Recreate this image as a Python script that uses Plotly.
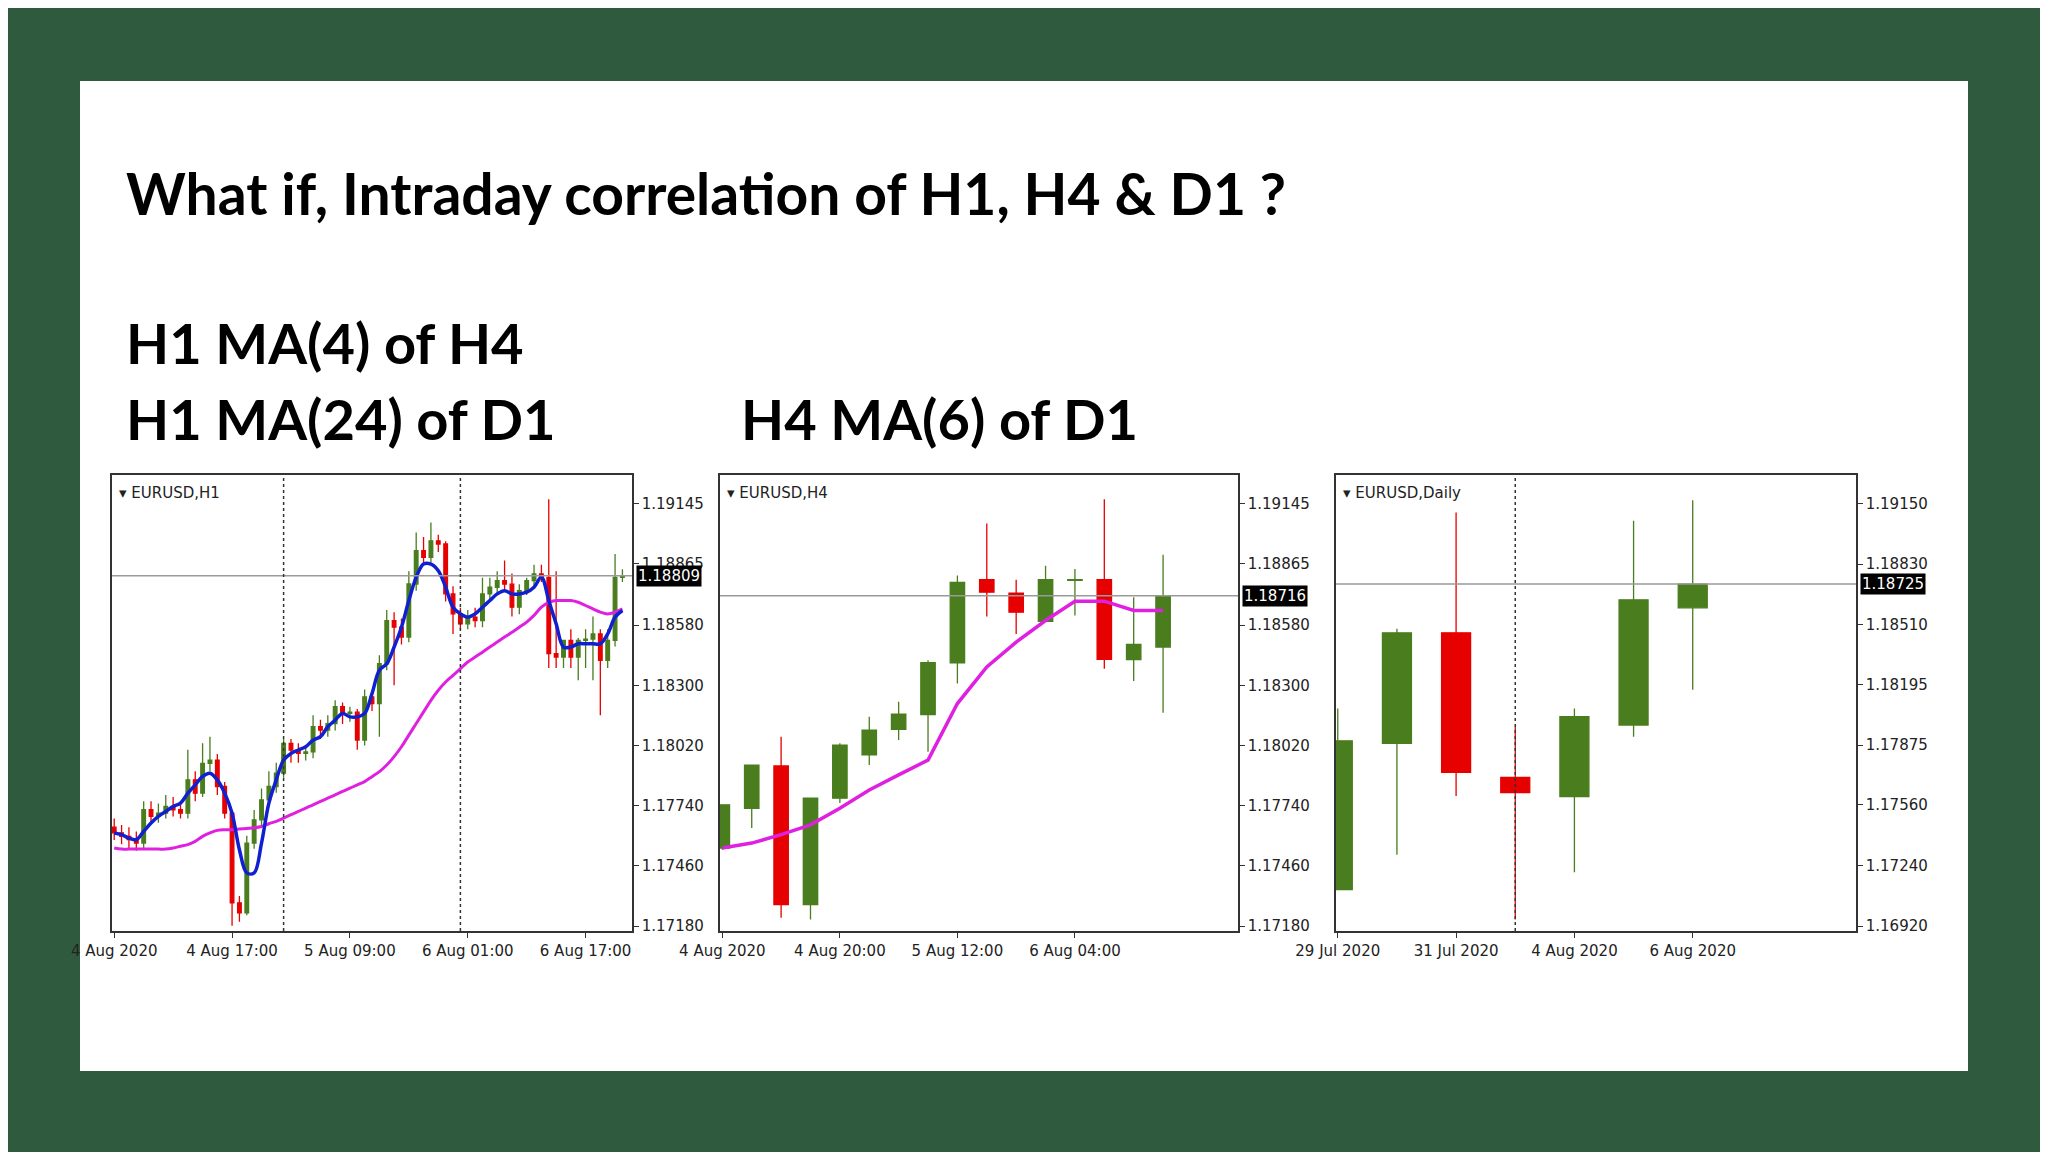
import plotly.graph_objects as go

W, H = 2048, 1152
OFF = 8  # page body margin compensation

# ---------------- H1 data ----------------
h1_open = [1.17640,1.17613,1.17597,1.17582,1.17566,1.17721,1.17690,1.17705,1.17736,1.17721,
           1.17705,1.17860,1.17798,1.17937,1.17952,1.17829,1.17705,1.17288,1.17242,1.17566,
           1.17674,1.17767,1.17829,1.17891,1.18030,1.17999,1.17983,1.17990,1.18107,1.18091,
           1.18122,1.18200,1.18169,1.18175,1.18045,1.18246,1.18215,1.18400,1.18601,1.18570,
           1.18524,1.18771,1.18926,1.18895,1.18972,1.18957,1.18725,1.18632,1.18586,1.18617,
           1.18601,1.18725,1.18756,1.18787,1.18770,1.18663,1.18740,1.18787,1.18818,1.18802,
           1.18447,1.18431,1.18509,1.18431,1.18509,1.18515,1.18539,1.18416,1.18509,1.18802]
h1_high = [1.17680,1.17650,1.17640,1.17620,1.17760,1.17760,1.17750,1.17790,1.17780,1.17760,
           1.18000,1.17900,1.18030,1.18060,1.17980,1.17850,1.17720,1.17320,1.17600,1.17720,
           1.17820,1.17900,1.17940,1.18050,1.18050,1.18030,1.18020,1.18160,1.18140,1.18160,
           1.18230,1.18220,1.18200,1.18190,1.18280,1.18270,1.18440,1.18650,1.18640,1.18610,
           1.18830,1.19010,1.18990,1.19057,1.19000,1.18970,1.18760,1.18660,1.18650,1.18660,
           1.18800,1.18800,1.18830,1.18880,1.18820,1.18770,1.18800,1.18860,1.18860,1.19165,
           1.18830,1.18480,1.18560,1.18520,1.18560,1.18620,1.18560,1.18560,1.18910,1.18840]
h1_low = [1.17580,1.17560,1.17540,1.17530,1.17540,1.17660,1.17660,1.17680,1.17690,1.17680,
          1.17680,1.17760,1.17780,1.17900,1.17790,1.17680,1.17181,1.17200,1.17230,1.17540,
          1.17640,1.17740,1.17800,1.17870,1.17940,1.17940,1.17950,1.17960,1.18050,1.18060,
          1.18090,1.18120,1.18130,1.18000,1.18020,1.18180,1.18060,1.18370,1.18300,1.18490,
          1.18500,1.18740,1.18860,1.18870,1.18920,1.18690,1.18539,1.18560,1.18560,1.18570,
          1.18570,1.18700,1.18730,1.18740,1.18620,1.18630,1.18720,1.18760,1.18780,1.18380,
          1.18380,1.18380,1.18380,1.18323,1.18380,1.18323,1.18160,1.18380,1.18480,1.18780]
h1_close = [1.17613,1.17597,1.17582,1.17566,1.17721,1.17690,1.17705,1.17736,1.17721,1.17705,
            1.17860,1.17798,1.17937,1.17952,1.17829,1.17705,1.17288,1.17242,1.17566,1.17674,
            1.17767,1.17829,1.17891,1.18030,1.17999,1.17983,1.17990,1.18107,1.18091,1.18122,
            1.18200,1.18169,1.18175,1.18045,1.18246,1.18215,1.18400,1.18601,1.18570,1.18524,
            1.18771,1.18926,1.18895,1.18972,1.18957,1.18725,1.18632,1.18586,1.18617,1.18601,
            1.18725,1.18756,1.18787,1.18770,1.18663,1.18740,1.18787,1.18818,1.18802,1.18447,
            1.18431,1.18509,1.18431,1.18509,1.18515,1.18539,1.18416,1.18509,1.18802,1.18809]
h1_ma4 = [1.17613,1.17605,1.17589,1.17582,1.17620,1.17659,1.17690,1.17713,1.17736,1.17752,
          1.17798,1.17837,1.17876,1.17891,1.17860,1.17798,1.17705,1.17535,1.17427,1.17427,
          1.17566,1.17752,1.17860,1.17952,1.17983,1.17999,1.18014,1.18045,1.18061,1.18107,
          1.18138,1.18169,1.18153,1.18153,1.18169,1.18261,1.18370,1.18400,1.18478,1.18570,
          1.18694,1.18802,1.18864,1.18864,1.18833,1.18756,1.18663,1.18632,1.18617,1.18632,
          1.18663,1.18694,1.18725,1.18740,1.18725,1.18725,1.18733,1.18756,1.18802,1.18694,
          1.18586,1.18478,1.18478,1.18493,1.18493,1.18493,1.18493,1.18539,1.18617,1.18648]
h1_ma24 = [1.17543,1.17538,1.17538,1.17538,1.17538,1.17538,1.17538,1.17538,1.17543,1.17551,
           1.17559,1.17574,1.17597,1.17613,1.17625,1.17628,1.17628,1.17631,1.17634,1.17637,
           1.17643,1.17656,1.17667,1.17682,1.17698,1.17713,1.17729,1.17744,1.17760,1.17775,
           1.17790,1.17806,1.17821,1.17837,1.17852,1.17875,1.17898,1.17929,1.17968,1.18014,
           1.18068,1.18122,1.18176,1.18230,1.18277,1.18315,1.18346,1.18377,1.18408,1.18431,
           1.18454,1.18478,1.18501,1.18524,1.18547,1.18570,1.18594,1.18625,1.18663,1.18686,
           1.18694,1.18694,1.18694,1.18686,1.18671,1.18655,1.18640,1.18632,1.18640,1.18655]
h1_ticks = ["4 Aug 2020", "4 Aug 17:00", "5 Aug 09:00", "6 Aug 01:00", "6 Aug 17:00"]
h1_tickpos = [0, 16, 32, 48, 64]

# ---------------- H4 data ----------------
h4_open = [1.17543,1.17728,1.17925,1.17280,1.17775,1.17976,1.18095,1.18164,1.18404,1.18791,1.18729,1.18597,1.18788,1.18791,1.18419,1.18478]
h4_high = [1.17744,1.17929,1.18061,1.17775,1.18030,1.18153,1.18223,1.18416,1.18810,1.19052,1.18791,1.18856,1.18841,1.19165,1.18709,1.18907]
h4_low = [1.17535,1.17636,1.17219,1.17211,1.17752,1.17929,1.18045,1.17991,1.18308,1.18620,1.18539,1.18597,1.18624,1.18377,1.18320,1.18172]
h4_close = [1.17744,1.17929,1.17280,1.17775,1.18022,1.18091,1.18166,1.18405,1.18779,1.18733,1.18640,1.18791,1.18791,1.18420,1.18490,1.18716]
h4_ma6 = [1.17543,1.17566,1.17605,1.17651,1.17728,1.17813,1.17883,1.17952,1.18215,1.18385,1.18501,1.18601,1.18691,1.18691,1.18648,1.18648]
h4_ticks = ["4 Aug 2020", "4 Aug 20:00", "5 Aug 12:00", "6 Aug 04:00"]
h4_tickpos = [0, 4, 8, 12]

# ---------------- Daily data ----------------
d1_open = [1.17113,1.17884,1.18468,1.17705,1.17604,1.17981,1.18600]
d1_high = [1.18068,1.18489,1.19103,1.17972,1.18068,1.19059,1.19168]
d1_low = [1.17113,1.17297,1.17607,1.16955,1.17204,1.17919,1.18168]
d1_close = [1.17898,1.18468,1.17732,1.17625,1.18025,1.18642,1.18725]
d1_ticks = ["29 Jul 2020", "31 Jul 2020", "4 Aug 2020", "6 Aug 2020"]
d1_tickpos = [0, 2, 4, 6]

ticks_a = [1.19145, 1.18865, 1.18580, 1.18300, 1.18020, 1.17740, 1.17460, 1.17180]
ticks_b = [1.19150, 1.18830, 1.18510, 1.18195, 1.17875, 1.17560, 1.17240, 1.16920]

GREEN = "#4a7d1e"
RED = "#e60000"
MAG = "#e020e0"
BLUE = "#1020d0"

fig = go.Figure()

def px_x(p): return (p - OFF) / W
def px_y(p): return 1 - (p - OFF) / H

panels = [
    dict(n="", x0=112, x1=632, name="EURUSD,H1", o=h1_open, h=h1_high, l=h1_low, c=h1_close,
         ticks=ticks_a, yr=[1.17157, 1.19278], xr=[-0.3, 70.3], tp=h1_tickpos, tt=h1_ticks,
         cur="1.18809", curv=1.18809, seps=[23, 47]),
    dict(n="2", x0=720, x1=1238, name="EURUSD,H4", o=h4_open, h=h4_high, l=h4_low, c=h4_close,
         ticks=ticks_a, yr=[1.17157, 1.19278], xr=[-0.08, 17.55], tp=h4_tickpos, tt=h4_ticks,
         cur="1.18716", curv=1.18716, seps=[]),
    dict(n="3", x0=1336, x1=1856, name="EURUSD,Daily", o=d1_open, h=d1_high, l=d1_low, c=d1_close,
         ticks=ticks_b, yr=[1.16894, 1.19301], xr=[-0.03, 8.76], tp=d1_tickpos, tt=d1_ticks,
         cur="1.18725", curv=1.18725, seps=[3]),
]

shapes = []
annotations = []
for p in panels:
    xa, ya = "x" + p["n"], "y" + p["n"]
    xs = list(range(len(p["c"])))
    fig.add_trace(go.Candlestick(
        x=xs, open=p["o"], high=p["h"], low=p["l"], close=p["c"],
        xaxis=xa, yaxis=ya, whiskerwidth=0,
        increasing=dict(line=dict(color=GREEN, width=1.3), fillcolor=GREEN),
        decreasing=dict(line=dict(color=RED, width=1.3), fillcolor=RED),
        hoverinfo="skip", showlegend=False))
    kx = "xaxis" + p["n"]; ky = "yaxis" + p["n"]
    fig.layout[kx] = dict(domain=[px_x(p["x0"]), px_x(p["x1"])], anchor=ya, range=p["xr"],
                          rangeslider=dict(visible=False), showgrid=False, zeroline=False,
                          automargin=False,
                          showline=True, mirror=True, linecolor="#333", linewidth=1.5,
                          tickmode="array", tickvals=p["tp"], ticktext=p["tt"],
                          ticks="outside", ticklen=5, tickcolor="#333",
                          tickfont=dict(family="DejaVu Sans", size=15, color="#222"))
    fig.layout[ky] = dict(domain=[px_y(931), px_y(475)], anchor=xa, range=p["yr"], side="right",
                          showgrid=False, zeroline=False, showline=True, mirror=True,
                          automargin=False,
                          linecolor="#333", linewidth=1.5, tickmode="array",
                          tickvals=p["ticks"], ticktext=[f"{t:.5f}" for t in p["ticks"]],
                          ticks="outside", ticklen=5, tickcolor="#333",
                          tickfont=dict(family="DejaVu Sans", size=15, color="#222"))
    shapes.append(dict(type="line", xref=xa + " domain", yref=ya, x0=0, x1=1,
                       y0=p["curv"], y1=p["curv"], line=dict(color="#9a9a9a", width=1.5)))
    for s in p["seps"]:
        shapes.append(dict(type="line", xref=xa, yref=ya + " domain", x0=s, x1=s, y0=0, y1=1,
                           line=dict(color="#333", width=1.5, dash="dot")))
    annotations.append(dict(xref=xa + " domain", yref=ya, x=1.008, y=p["curv"], xanchor="left",
                            text=p["cur"], showarrow=False, bgcolor="#000",
                            font=dict(family="DejaVu Sans", size=15, color="white"), borderpad=1))
    annotations.append(dict(xref=xa + " domain", yref=ya + " domain", x=0.01, y=0.985,
                            xanchor="left", yanchor="top", text="▾ " + p["name"], showarrow=False,
                            font=dict(family="DejaVu Sans", size=15, color="#222")))

fig.add_trace(go.Scatter(x=list(range(len(h1_ma24))), y=h1_ma24, mode="lines", xaxis="x", yaxis="y",
                         line=dict(color=MAG, width=3, shape="spline"), hoverinfo="skip", showlegend=False))
fig.add_trace(go.Scatter(x=list(range(len(h1_ma4))), y=h1_ma4, mode="lines", xaxis="x", yaxis="y",
                         line=dict(color=BLUE, width=3.5, shape="spline"), hoverinfo="skip", showlegend=False))
fig.add_trace(go.Scatter(x=list(range(len(h4_ma6))), y=h4_ma6, mode="lines", xaxis="x2", yaxis="y2",
                         line=dict(color=MAG, width=3.5), hoverinfo="skip", showlegend=False))

# white slide panel
shapes.insert(0, dict(type="rect", xref="paper", yref="paper", x0=px_x(80), x1=px_x(1968),
                      y0=px_y(1071), y1=px_y(81), fillcolor="white", line=dict(width=0), layer="below"))

TF = dict(family="Lato", size=57, color="black")
SF = dict(family="Lato", size=56, color="black")
for txt, x, y, f in [("<b>What if, Intraday correlation of H1, H4 &amp; D1 ?</b>", 124, 193, TF),
                     ("<b>H1 MA(4) of H4</b>", 124, 342, SF),
                     ("<b>H1 MA(24) of D1</b>", 124, 418, SF),
                     ("<b>H4 MA(6) of D1</b>", 739, 418, SF)]:
    annotations.append(dict(xref="paper", yref="paper", x=px_x(x), y=px_y(y), xanchor="left",
                            yanchor="middle", text=txt, showarrow=False, font=f))

fig.update_layout(width=W, height=H, margin=dict(l=0, r=0, t=0, b=0, autoexpand=False),
                  paper_bgcolor="#305a3e", plot_bgcolor="white",
                  shapes=shapes, annotations=annotations, showlegend=False)
fig.write_html("out.html", config={"responsive": False})
